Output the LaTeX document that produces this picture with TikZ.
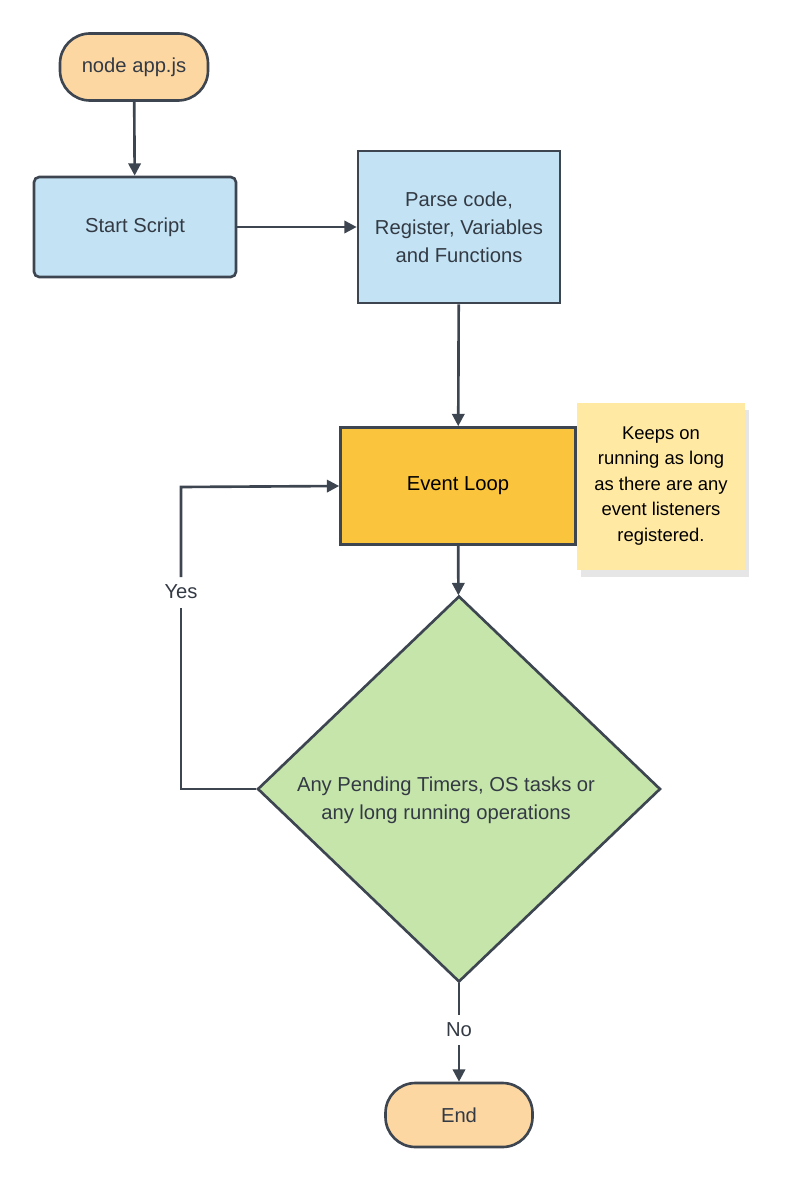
\documentclass[tikz,border=0pt]{standalone}
\usepackage{fontspec}
\setmainfont{Liberation Sans}
\usetikzlibrary{shapes.geometric,arrows.meta,shadows}
\definecolor{ln}{HTML}{3D4550}
\definecolor{txt}{HTML}{333A44}
\definecolor{orng}{HTML}{FDD7A2}
\definecolor{blu}{HTML}{C3E3F5}
\definecolor{yel}{HTML}{FAC43C}
\definecolor{note}{HTML}{FFE9A3}
\definecolor{grn}{HTML}{C6E5AB}
\begin{document}
\begin{tikzpicture}[x=0.02cm,y=-0.02cm,
  every node/.style={font=\fontsize{11.5}{16}\selectfont,text=txt,align=center},
  box/.style={draw=ln,line width=1.5pt,inner sep=0pt},
  pill/.style={box,fill=orng,rounded corners=0.6cm},
  arr/.style={draw=ln,line width=1.5pt,-{Triangle[length=7pt,width=7pt]}}]
\useasboundingbox (0,0) rectangle (800,1185);
\node[pill,minimum width=148*0.02cm,minimum height=67*0.02cm] (app) at (134,67) {node app.js};
\node[box,fill=blu,rounded corners=3pt,minimum width=202*0.02cm,minimum height=100*0.02cm] (start) at (135,227) {Start Script};
\node[box,fill=blu,minimum width=202*0.02cm,minimum height=152*0.02cm] (parse) at (459,227) {Parse code,\\Register, Variables\\and Functions};
\node[box,fill=yel,minimum width=235*0.02cm,minimum height=117*0.02cm,text=black] (loop) at (458,486) {Event Loop};
\node[fill=note,minimum width=168*0.02cm,minimum height=167*0.02cm,text=black,drop shadow={opacity=0.2,shadow xshift=2pt,shadow yshift=-4pt},font=\fontsize{10.5}{14.5}\selectfont] (note) at (661,486) {Keeps on\\running as long\\as there are any\\event listeners\\registered.};
\node[box,fill=grn,diamond,minimum width=403*0.02cm,minimum height=386*0.02cm,aspect=1.04,inner sep=0pt] (dec) at (459,789) {};
\node at (446,800) {Any Pending Timers, OS tasks or\\any long running operations};
\node[pill,minimum width=147*0.02cm,minimum height=64*0.02cm] (end) at (459,1115) {End};
\coordinate (c1) at (181,789);
\coordinate (c2) at (181,487);
\draw[arr] (app) -- (start);
\draw[arr] (start) -- (parse);
\draw[arr] (parse) -- (loop);
\draw[arr] (loop) -- (dec);
\draw[draw=ln,line width=1.5pt] (dec.west) -- (c1) -- (181,608);
\draw[arr] (181,577) -- (c2) -- (loop.west);
\node (yes) at (181,592) {Yes};
\draw[draw=ln,line width=1.5pt] (dec.south) -- (459,1015);
\node (no) at (459,1030) {No};
\draw[arr] (459,1045) -- (end);
\end{tikzpicture}
\end{document}
